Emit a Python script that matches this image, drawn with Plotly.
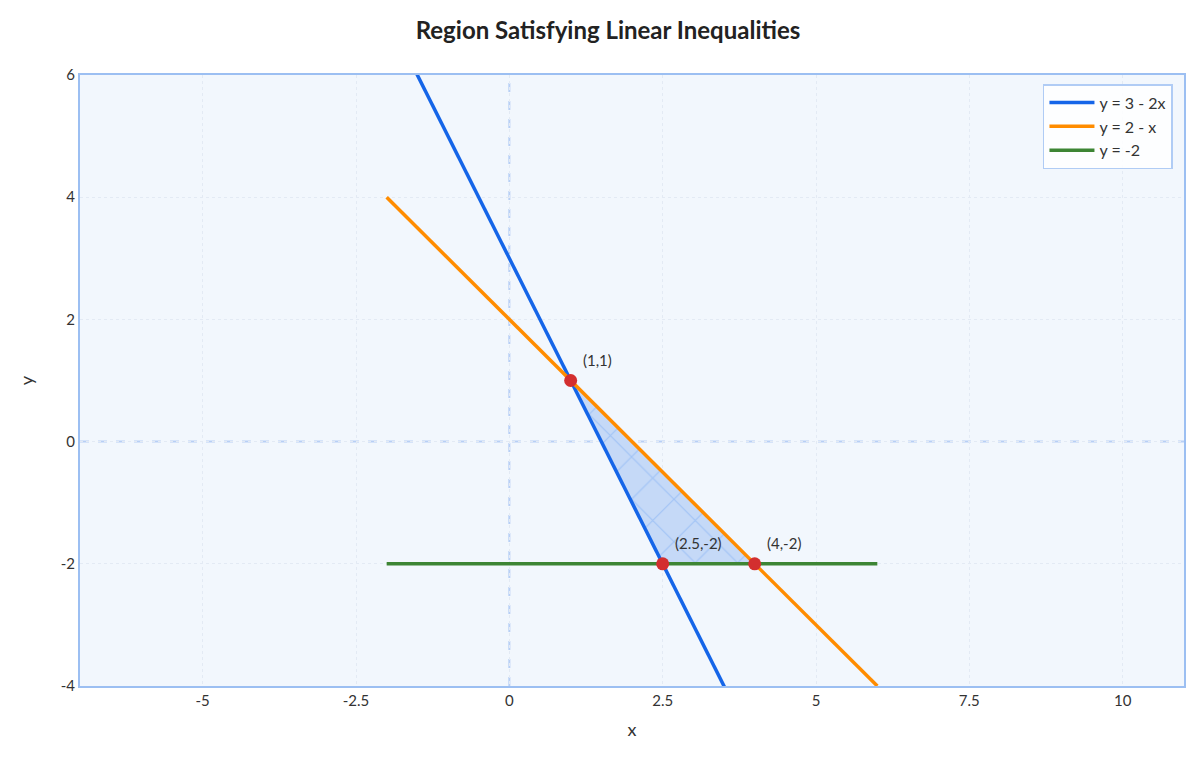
import plotly.graph_objects as go

x_line = [-2, 6]
y_blue = [3 - 2 * v for v in x_line]
y_orange = [2 - v for v in x_line]
y_green = [-2, -2]

region_x = [1, 2.5, 4, 1]
region_y = [1, -2, -2, 1]

pts_x = [1, 2.5, 4]
pts_y = [1, -2, -2]
pts_labels = ["(1,1)", "(2.5,-2)", "(4,-2)"]

x_ticks = [-5, -2.5, 0, 2.5, 5, 7.5, 10]
x_ticktext = ["-5", "-2.5", "0", "2.5", "5", "7.5", "10"]
y_ticks = [-4, -2, 0, 2, 4, 6]
y_ticktext = ["-4", "-2", "0", "2", "4", "6"]

FONT = "Lato"

fig = go.Figure()
fig.add_trace(go.Scatter(
    x=region_x, y=region_y, mode="lines", fill="toself",
    line=dict(width=0),
    fillpattern=dict(shape="x", size=30, solidity=0.07, fgcolor="rgba(160,195,246,1)",
                     bgcolor="rgba(197,217,247,1)", fillmode="replace"),
    showlegend=False, hoverinfo="skip"))
fig.add_trace(go.Scatter(x=x_line, y=y_blue, mode="lines", name="y = 3 - 2x",
                         line=dict(color="#1565e8", width=3.5)))
fig.add_trace(go.Scatter(x=x_line, y=y_orange, mode="lines", name="y = 2 - x",
                         line=dict(color="#ff8c00", width=3.5)))
fig.add_trace(go.Scatter(x=x_line, y=y_green, mode="lines", name="y = -2",
                         line=dict(color="#3d8534", width=3.5)))
fig.add_trace(go.Scatter(x=pts_x, y=pts_y, mode="markers", showlegend=False,
                         marker=dict(color="#d32f2f", size=13)))

for px, py, lab in zip(pts_x, pts_y, pts_labels):
    fig.add_annotation(x=px, y=py, text=lab, showarrow=False, xanchor="left", yanchor="bottom",
                       xshift=10, yshift=10, font=dict(family=FONT, size=15, color="#333333"))

fig.update_layout(
    width=1200, height=761,
    paper_bgcolor="white", plot_bgcolor="#f2f7fd",
    margin=dict(l=72, r=24, t=67, b=83),
    title=dict(text="<b>Region Satisfying Linear Inequalities</b>", x=0.5, xanchor="center",
               y=0.97, yanchor="middle", font=dict(family=FONT, size=24, color="#222222")),
    font=dict(family=FONT, size=15, color="#333333"),
    legend=dict(x=0.99, y=0.985, xanchor="right", yanchor="top", bgcolor="rgba(255,255,255,0.85)",
                bordercolor="#b0ccf5", borderwidth=1.5, font=dict(family=FONT, size=16),
                itemwidth=45),
    showlegend=True,
)
fig.update_xaxes(range=[-7, 11], tickvals=x_ticks, ticktext=x_ticktext,
                 showgrid=True, gridcolor="#e3eaf4", griddash="dot", gridwidth=1,
                 zeroline=False, showline=True, linecolor="#9cbff2", linewidth=2, mirror=True,
                 ticks="", title=dict(text="x", font=dict(size=18)), tickfont=dict(size=15))
fig.update_yaxes(range=[-4, 6], tickvals=y_ticks, ticktext=y_ticktext,
                 showgrid=True, gridcolor="#e3eaf4", griddash="dot", gridwidth=1,
                 zeroline=False, showline=True, linecolor="#9cbff2", linewidth=2, mirror=True,
                 ticks="", title=dict(text="y", font=dict(size=18), standoff=22), tickfont=dict(size=15))
fig.add_hline(y=0, line=dict(color="#b8cff5", width=2, dash="dash"), layer="below")
fig.add_vline(x=0, line=dict(color="#b8cff5", width=2, dash="dash"), layer="below")

fig.write_html("out.html")
